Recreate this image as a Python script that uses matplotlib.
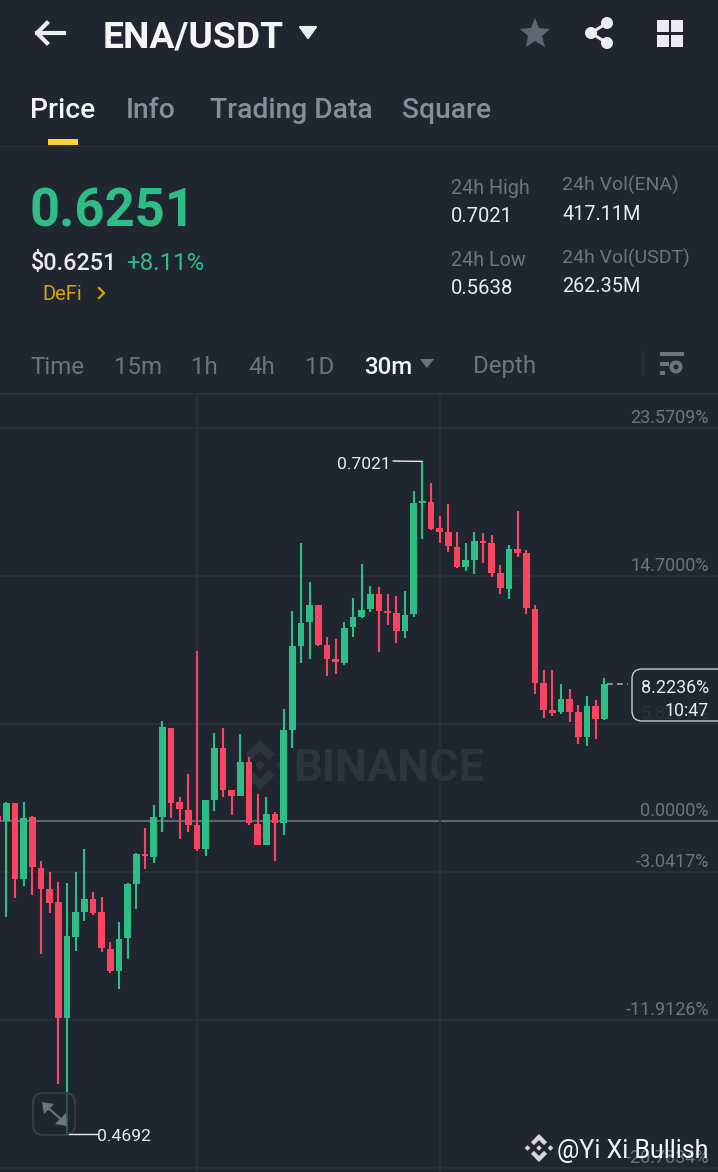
"""Binance ENA/USDT 30m screen redrawn with matplotlib."""
import matplotlib
matplotlib.use("Agg")
import matplotlib.pyplot as plt
from matplotlib.patches import Polygon, Rectangle, FancyBboxPatch, Circle

# ── candle data (prices) ────────────────────────────────────────────────────
opens = [0.5793, 0.5776, 0.5838, 0.5575, 0.5790, 0.5613, 0.5540, 0.5495, 0.5094, 0.5374,
         0.5461, 0.5506, 0.5461, 0.5333, 0.5257, 0.5371, 0.5558, 0.5662, 0.5651, 0.5790,
         0.6098, 0.5842, 0.5814, 0.5762, 0.5679, 0.5849, 0.6029, 0.5883, 0.5863, 0.5980,
         0.5766, 0.5693, 0.5800, 0.5769, 0.6091, 0.6382, 0.6465, 0.6524, 0.6386, 0.6337,
         0.6323, 0.6448, 0.6482, 0.6510, 0.6562, 0.6503, 0.6496, 0.6434, 0.6493, 0.6877,
         0.6881, 0.6791, 0.6777, 0.6725, 0.6656, 0.6680, 0.6746, 0.6739, 0.6635, 0.6579,
         0.6718, 0.6704, 0.6510, 0.6254, 0.6160, 0.6154, 0.6199, 0.6154, 0.6067, 0.6174,
         0.6129]
highs = [0.5793, 0.5842, 0.5838, 0.5842, 0.5793, 0.5638, 0.5599, 0.5565, 0.5561, 0.5599,
         0.5679, 0.5530, 0.5513, 0.5357, 0.5426, 0.5561, 0.5665, 0.5752, 0.5831, 0.6122,
         0.6098, 0.5859, 0.5939, 0.6365, 0.5849, 0.6081, 0.6098, 0.5883, 0.6077, 0.5998,
         0.5870, 0.5859, 0.5807, 0.6164, 0.6503, 0.6739, 0.6604, 0.6524, 0.6413, 0.6406,
         0.6465, 0.6548, 0.6666, 0.6590, 0.6586, 0.6562, 0.6555, 0.6573, 0.6919, 0.7021,
         0.6947, 0.6832, 0.6874, 0.6777, 0.6739, 0.6777, 0.6773, 0.6766, 0.6662, 0.6732,
         0.6850, 0.6714, 0.6524, 0.6299, 0.6299, 0.6250, 0.6233, 0.6178, 0.6209, 0.6195,
         0.6271]
lows = [0.5776, 0.5444, 0.5509, 0.5551, 0.5520, 0.5315, 0.5457, 0.4865, 0.4692, 0.5326,
        0.5430, 0.5451, 0.5322, 0.5250, 0.5194, 0.5298, 0.5471, 0.5610, 0.5631, 0.5738,
        0.5786, 0.5714, 0.5738, 0.5672, 0.5655, 0.5811, 0.5859, 0.5797, 0.5863, 0.5762,
        0.5693, 0.5693, 0.5638, 0.5728, 0.6029, 0.6323, 0.6337, 0.6382, 0.6278, 0.6285,
        0.6316, 0.6413, 0.6479, 0.6500, 0.6361, 0.6455, 0.6392, 0.6410, 0.6482, 0.6753,
        0.6784, 0.6739, 0.6708, 0.6652, 0.6642, 0.6631, 0.6670, 0.6621, 0.6562, 0.6545,
        0.6690, 0.6493, 0.6216, 0.6133, 0.6140, 0.6147, 0.6119, 0.6043, 0.6036, 0.6060,
        0.6126]
closes = [0.5776, 0.5838, 0.5575, 0.5786, 0.5617, 0.5540, 0.5492, 0.5094, 0.5378, 0.5461,
          0.5506, 0.5457, 0.5336, 0.5257, 0.5367, 0.5558, 0.5662, 0.5655, 0.5790, 0.6102,
          0.5838, 0.5818, 0.5762, 0.5679, 0.5849, 0.6029, 0.5883, 0.5863, 0.5980, 0.5769,
          0.5693, 0.5800, 0.5769, 0.6091, 0.6382, 0.6462, 0.6524, 0.6386, 0.6337, 0.6327,
          0.6444, 0.6482, 0.6507, 0.6562, 0.6503, 0.6496, 0.6434, 0.6489, 0.6877, 0.6884,
          0.6787, 0.6777, 0.6728, 0.6656, 0.6680, 0.6746, 0.6739, 0.6635, 0.6583, 0.6718,
          0.6704, 0.6514, 0.6254, 0.6160, 0.6150, 0.6199, 0.6154, 0.6067, 0.6174, 0.6129,
          0.6251]
base_price = 0.5776
pct_levels = [23.5709, 14.7000, 5.8271, 0.0000, -3.0417, -11.9126, -20.7834]
pct_labels = ["23.5709%", "14.7000%", "5.8271%", "0.0000%", "-3.0417%", "-11.9126%", "-20.7834%"]
time_grid = [23, 51]
tabs = ["Price", "Info", "Trading Data", "Square"]
tab_x = [30, 126, 210, 402]
frames = ["Time", "15m", "1h", "4h", "1D", "30m", "Depth"]
frame_x = [30, 114, 191, 248, 305, 364, 473]

# ── colour palette ──────────────────────────────────────────────────────────
BG = "#1F2630"
GREEN = "#2EBD85"
RED = "#FB4560"
GRID = "#2A313B"
GREY = "#848E9C"
DIM = "#6C7480"
WHITE = "#EAECEF"

W, H = 718, 1172
plt.rcParams["font.family"] = ["Roboto", "DejaVu Sans"]
fig = plt.figure(figsize=(W / 100, H / 100), dpi=100, facecolor=BG)


def pixel_axes(z):
    a = fig.add_axes([0, 0, 1, 1], zorder=z)
    a.set_xlim(0, W)
    a.set_ylim(H, 0)
    a.axis("off")
    return a


ui = pixel_axes(0)
top = pixel_axes(2)


def txt(a, x, y, s, size, color=WHITE, ha="left", weight="normal", **kw):
    return a.text(x, y, s, fontsize=size, color=color, ha=ha, va="center", fontweight=weight, **kw)


def binance_logo(a, cx, cy, r, color):
    """Binance mark: centre + side diamonds, top and bottom chevrons."""
    s = r * 0.2
    for dx, dy in [(0, 0), (-r * 0.82, 0), (r * 0.82, 0)]:
        a.add_patch(Polygon([(cx + dx, cy + dy - s), (cx + dx + s, cy + dy),
                             (cx + dx, cy + dy + s), (cx + dx - s, cy + dy)],
                            fc=color, ec="none"))
    for sg in (-1, 1):
        a.add_patch(Polygon([(cx, cy + sg * r), (cx + r * 0.58, cy + sg * r * 0.42),
                             (cx + r * 0.36, cy + sg * r * 0.2), (cx, cy + sg * r * 0.56),
                             (cx - r * 0.36, cy + sg * r * 0.2), (cx - r * 0.58, cy + sg * r * 0.42)],
                            fc=color, ec="none"))


# ── header ──────────────────────────────────────────────────────────────────
ui.plot([37, 64], [33, 33], color=WHITE, lw=3)
ui.plot([47, 37, 47], [23, 33, 43], color=WHITE, lw=3)
txt(ui, 103, 38, "ENA/USDT", 26.8, "#F5F6F7", weight="bold")
ui.add_patch(Polygon([(300, 27), (316, 27), (308, 38)], fc=WHITE, ec=WHITE, lw=1.5, joinstyle="round"))

star = [(535, 18), (539, 28), (550, 29), (542, 36), (545, 47), (535, 41), (526, 47), (528, 36), (520, 29), (531, 28)]
ui.add_patch(Polygon(star, fc="#5E6673", ec="none"))
ui.plot([607, 591, 607], [23, 33, 43], color=WHITE, lw=2.2)
for px, py, pr in [(607, 23, 6), (591, 33, 6), (607, 43, 6)]:
    ui.add_patch(Circle((px, py), pr, fc=WHITE, ec="none"))
for px, py in [(657, 20), (671, 20), (657, 35), (671, 35)]:
    ui.add_patch(Rectangle((px, py), 12, 12, fc=WHITE, ec="none"))

for i, (s, x) in enumerate(zip(tabs, tab_x)):
    txt(ui, x, 111, s, 20.3, "#F5F6F7" if i == 0 else GREY, weight="medium")
ui.add_patch(Rectangle((48, 139), 30, 6, fc="#FCD535", ec="none"))
ui.plot([0, W], [145.5, 145.5], color=GRID, lw=1)

# ── price block ─────────────────────────────────────────────────────────────
txt(ui, 30, 212, "0.6251", 37.8, GREEN, weight="bold")
txt(ui, 31, 264, "$0.6251", 16.8, WHITE, weight="medium")
txt(ui, 126, 264, "+8.11%", 17.3, GREEN)
txt(ui, 42, 295, "DeFi", 14.5, "#DBA40C")
ui.plot([99, 104, 99], [288, 293, 298], color="#DBA40C", lw=1.6)

txt(ui, 451, 188, "24h High", 14.2, DIM)
txt(ui, 451, 216, "0.7021", 14.6, WHITE)
txt(ui, 451, 260, "24h Low", 14.2, DIM)
txt(ui, 451, 288, "0.5638", 14.6, WHITE)
txt(ui, 562, 185, "24h Vol(ENA)", 14, DIM)
txt(ui, 562, 214, "417.11M", 14.3, WHITE)
txt(ui, 562, 258, "24h Vol(USDT)", 14, DIM)
txt(ui, 562, 286, "262.35M", 14.3, WHITE)

# ── timeframe row ───────────────────────────────────────────────────────────
for s, x in zip(frames, frame_x):
    on = s == "30m"
    txt(ui, x, 367, s, 17.3, "#F5F6F7" if on else DIM, weight="medium" if on else "normal")
ui.add_patch(Polygon([(420, 359), (434, 359), (427, 368)], fc=DIM, ec="none"))
ui.plot([643, 643], [351, 375], color=GRID, lw=1.2)
ui.add_patch(Rectangle((660, 352), 24, 4, fc=DIM, ec="none"))
ui.add_patch(Rectangle((660, 362), 9, 4, fc=DIM, ec="none"))
ui.add_patch(Rectangle((660, 371), 5, 4, fc=DIM, ec="none"))
ui.add_patch(Circle((676, 367), 6.5, fc=DIM, ec="none"))
ui.add_patch(Circle((676, 367), 2.5, fc=BG, ec="none"))
ui.plot([0, W], [394, 394], color=GRID, lw=1.5)

# ── watermark under the candles ─────────────────────────────────────────────
binance_logo(ui, 260, 765, 25, "#2E343E")
txt(ui, 293, 769, "BINANCE", 32.5, "#2E343E", weight="bold")

# ── chart ───────────────────────────────────────────────────────────────────
chart_top, chart_bottom = 395, H
ax = fig.add_axes([0, 0, 1, (chart_bottom - chart_top) / H], zorder=1)
ax.patch.set_alpha(0)
ax.set_xlim(0.269, 83.11)
ax.set_ylim(0.4560, 0.7251)
ax.axis("off")

for lvl in pct_levels:
    y = base_price * (1 + lvl / 100)
    ax.axhline(y, color="#5E6673" if lvl == 0 else GRID, lw=1.5 if lvl == 0 else 1.3, zorder=1)
for t in time_grid:
    ax.axvline(t, color=GRID, lw=1.2, zorder=1)

idx = list(range(len(opens)))
cols = [GREEN if c >= o else RED for o, c in zip(opens, closes)]
ax.vlines(idx, lows, highs, colors=cols, lw=1.5, zorder=2)
ax.bar(idx, [abs(c - o) for o, c in zip(opens, closes)],
       bottom=[min(o, c) for o, c in zip(opens, closes)],
       width=0.78, color=cols, zorder=3, linewidth=0)

# right hand percent labels, just above their grid lines
for lvl, lab in zip(pct_levels, pct_labels):
    y = base_price * (1 + lvl / 100)
    ax.annotate(lab, (1, y), xycoords=("axes fraction", "data"), xytext=(-6.5, 6.8),
                textcoords="offset points", ha="right", va="center", fontsize=13, color=DIM)

# high / low markers
hi, lo = highs.index(max(highs)), lows.index(min(lows))
ax.annotate("", (hi, highs[hi]), xytext=(393, 461), textcoords=top.transData,
            arrowprops=dict(arrowstyle="-", color=WHITE, lw=1, shrinkA=0, shrinkB=0))
txt(top, 337, 464.5, "%.4f" % highs[hi], 12.6, WHITE)
txt(top, 97, 1136.5, "%.4f" % lows[lo], 12.6, WHITE)
top.plot([69, 97], [1134, 1134], color=WHITE, lw=1)

# ── last price tag ──────────────────────────────────────────────────────────
top.plot([607, 628], [684, 684], color="#9AA0A8", lw=1.2, dashes=(3.5, 2.5))
top.add_patch(FancyBboxPatch((640, 677), 90, 36, boxstyle="round,pad=8,rounding_size=10",
                             fc=BG, alpha=0.85, ec="none"))
top.add_patch(FancyBboxPatch((640, 677), 90, 36, boxstyle="round,pad=8,rounding_size=10",
                             fc="none", ec="#C9CCD1", lw=1))
txt(top, 709, 688, "8.2236%", 12.9, WHITE, ha="right")
txt(top, 709, 711, "10:47", 12.9, WHITE, ha="right")

# ── expand button ───────────────────────────────────────────────────────────
top.add_patch(FancyBboxPatch((41, 1101), 26, 26, boxstyle="round,pad=8,rounding_size=10",
                             fc=BG, alpha=0.65, ec="none"))
top.add_patch(FancyBboxPatch((41, 1101), 26, 26, boxstyle="round,pad=8,rounding_size=10",
                             fc="none", ec="#363C46", lw=1.5))
top.plot([47, 62], [1107, 1120], color="#6C7480", lw=1.5)
top.add_patch(Polygon([(42, 1102), (54, 1104), (44, 1114)], fc="#6C7480", ec="none"))
top.add_patch(Polygon([(67, 1126), (55, 1124), (66, 1113)], fc="#6C7480", ec="none"))

# ── share watermark ─────────────────────────────────────────────────────────
binance_logo(top, 539, 1148, 14, "#D5D7DA")
txt(top, 557, 1151, "@Yi Xi Bullish", 18, "#F5F6F7")

fig.savefig("out.png", dpi=100, facecolor=BG)
